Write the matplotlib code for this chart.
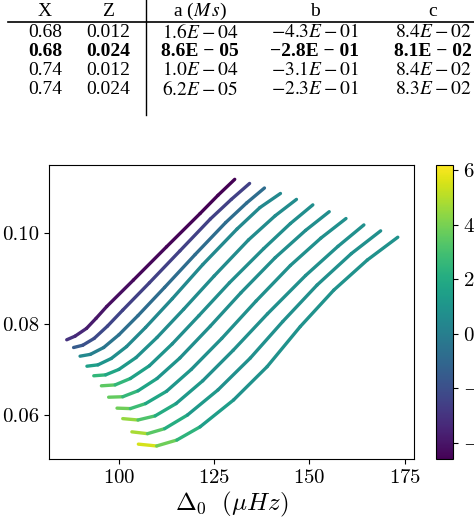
import numpy as np
import matplotlib
matplotlib.use("Agg")
import matplotlib.pyplot as plt
from matplotlib.collections import LineCollection
from matplotlib.colors import Normalize

plt.rcParams["font.family"] = "serif"
plt.rcParams["font.serif"] = ["cmr10", "DejaVu Serif"]
plt.rcParams["mathtext.fontset"] = "cm"
plt.rcParams["axes.formatter.use_mathtext"] = True

# table
TBL_HEAD = ["X", "Z", r"a ($M\,s$)", "b", "c"]
TBL_X = ["0.68", "0.68", "0.74", "0.74"]
TBL_Z = ["0.012", "0.024", "0.012", "0.024"]
TBL_A = ["1.6E-04", "8.6E-05", "1.0E-04", "6.2E-05"]
TBL_B = ["-4.3E-01", "-2.8E-01", "-3.1E-01", "-2.3E-01"]
TBL_C = ["8.4E-02", "8.1E-02", "8.4E-02", "8.3E-02"]
BOLD_ROW = 1

# tracks: x = Delta_0 (muHz), y = quantity, c = colour value
TRACK_X = [
    [86.3, 88.5, 91.5, 94.0, 96.8, 103.8, 112.5, 121.3, 126.0, 130.4],
    [88.1, 90.5, 93.5, 97.0, 101.0, 108.0, 116.0, 124.0, 129.5, 134.3],
    [89.8, 92.5, 96.0, 100.0, 105.0, 112.0, 120.0, 128.0, 133.5, 138.2],
    [91.6, 94.5, 98.0, 102.0, 107.0, 114.0, 122.0, 131.0, 137.0, 142.4],
    [93.4, 96.5, 100.0, 104.5, 110.0, 117.0, 125.0, 134.0, 141.0, 146.6],
    [95.4, 99.0, 103.0, 108.0, 114.0, 121.0, 129.0, 138.0, 145.0, 150.9],
    [97.3, 101.0, 105.0, 110.0, 116.0, 124.0, 132.0, 141.0, 149.0, 155.2],
    [99.5, 103.0, 107.0, 112.5, 119.0, 127.0, 136.0, 145.0, 153.0, 159.6],
    [101.0, 105.0, 109.5, 115.0, 122.0, 130.0, 139.0, 149.0, 157.5, 164.3],
    [103.4, 107.5, 112.0, 118.0, 126.0, 134.5, 143.0, 152.0, 161.0, 168.7],
    [105.1, 109.9, 115.2, 121.3, 130.1, 138.9, 147.6, 156.4, 165.2, 173.2],
]
TRACK_Y = [
    [0.0765, 0.0773, 0.0790, 0.0812, 0.0838, 0.0896, 0.0969, 0.1042, 0.1082, 0.1117],
    [0.0748, 0.0753, 0.0768, 0.0795, 0.0830, 0.0890, 0.0960, 0.1030, 0.1073, 0.1108],
    [0.0729, 0.0733, 0.0748, 0.0776, 0.0818, 0.0880, 0.0952, 0.1022, 0.1065, 0.1098],
    [0.0707, 0.0710, 0.0724, 0.0750, 0.0792, 0.0855, 0.0930, 0.1008, 0.1055, 0.1086],
    [0.0686, 0.0688, 0.0700, 0.0726, 0.0770, 0.0832, 0.0905, 0.0984, 0.1037, 0.1073],
    [0.0664, 0.0666, 0.0680, 0.0708, 0.0756, 0.0818, 0.0890, 0.0965, 0.1020, 0.1061],
    [0.0639, 0.0640, 0.0653, 0.0680, 0.0725, 0.0795, 0.0868, 0.0945, 0.1005, 0.1046],
    [0.0615, 0.0614, 0.0625, 0.0652, 0.0700, 0.0768, 0.0850, 0.0928, 0.0988, 0.1031],
    [0.0592, 0.0589, 0.0598, 0.0625, 0.0675, 0.0742, 0.0822, 0.0906, 0.0970, 0.1017],
    [0.0563, 0.0559, 0.0570, 0.0600, 0.0655, 0.0725, 0.0805, 0.0885, 0.0954, 0.1004],
    [0.0536, 0.0532, 0.0545, 0.0574, 0.0633, 0.0706, 0.0794, 0.0874, 0.0940, 0.0990],
]
TRACK_C = [
    [-3.0, -3.4, -3.8, -4.0, -4.2, -4.4, -4.5, -4.6, -4.6],
    [-1.5, -1.9, -2.2, -2.4, -2.5, -2.5, -2.5, -2.5, -2.5],
    [0.5, 0.0, -0.4, -0.7, -0.8, -0.8, -0.8, -0.8, -0.8],
    [1.5, 1.0, 0.7, 0.5, 0.5, 0.5, 0.5, 0.5, 0.5],
    [2.5, 1.8, 1.2, 0.8, 0.6, 0.6, 0.6, 0.6, 0.6],
    [3.5, 2.5, 1.6, 1.0, 0.7, 0.7, 0.7, 0.7, 0.7],
    [3.6, 2.6, 1.7, 1.0, 0.7, 0.7, 0.7, 0.7, 0.7],
    [3.8, 2.8, 1.8, 1.1, 0.8, 0.8, 0.8, 0.8, 0.8],
    [4.5, 3.2, 2.0, 1.2, 0.8, 0.8, 0.8, 0.8, 0.8],
    [4.8, 3.4, 2.1, 1.2, 0.8, 0.8, 0.8, 0.8, 0.8],
    [5.5, 3.8, 2.4, 1.4, 0.9, 0.9, 0.9, 0.9, 0.9],
]

fig = plt.figure(figsize=(4.74, 5.23), dpi=100)

# ---- table as text ----
tab = fig.add_axes([0, 0.76, 1, 0.24])
tab.set_xlim(0, 474)
tab.set_ylim(125, 0)
tab.axis("off")
colx = [45, 108, 200, 315, 433]
rowy = [32, 51, 70, 89]
tfont = dict(family="Liberation Serif", fontsize=14, ha="center", va="center",
             math_fontfamily="stix")
for cx, h in zip(colx, TBL_HEAD):
    tab.text(cx, 11, h, **tfont)
tab.plot([8, 474], [22, 22], color="black", lw=1.2)
tab.plot([146, 146], [0, 115], color="black", lw=1.0)
for i, y in enumerate(rowy):
    vals = [TBL_X[i], TBL_Z[i], TBL_A[i], TBL_B[i], TBL_C[i]]
    for j, (cx, v) in enumerate(zip(colx, vals)):
        if j >= 2:
            m, e = v.split("E")
            if i == BOLD_ROW:
                s = m.replace("-", "\u2212") + "E \u2212 " + e[1:]
                tab.text(cx, y, s, fontweight="bold", **tfont)
            else:
                tab.text(cx, y, "$" + m + "E-" + e[1:] + "$", **tfont)
        else:
            tab.text(cx, y, v, fontweight="bold" if i == BOLD_ROW else "normal",
                     **tfont)

# ---- tracks ----
ax = fig.add_axes([0.103, 0.122, 0.770, 0.563])
norm = Normalize(-4.6, 6.2)
cmap = plt.get_cmap("viridis")
for xs, ys, cs in zip(TRACK_X, TRACK_Y, TRACK_C):
    pts = np.column_stack([xs, ys])
    segs = np.stack([pts[:-1], pts[1:]], axis=1)
    lc = LineCollection(segs, cmap=cmap, norm=norm, linewidths=2.4,
                        capstyle="round", joinstyle="round")
    lc.set_array(np.asarray(cs))
    ax.add_collection(lc)
ax.set_xlim(81.6, 177.4)
ax.set_ylim(0.0503, 0.1149)
ax.set_xticks([100, 125, 150, 175])
ax.set_yticks([0.06, 0.08, 0.10])
ax.set_yticklabels(["0.06", "0.08", "0.10"])
ax.tick_params(labelsize=15)
ax.set_xlabel(r"$\Delta_0\ \ (\mu Hz)$", fontsize=18, labelpad=2)

cax = fig.add_axes([0.920, 0.122, 0.036, 0.563])
sm = plt.cm.ScalarMappable(norm=norm, cmap=cmap)
cb = fig.colorbar(sm, cax=cax, ticks=[-4, -2, 0, 2, 4, 6])
cb.ax.tick_params(labelsize=15)

fig.savefig("out.png", dpi=100)
